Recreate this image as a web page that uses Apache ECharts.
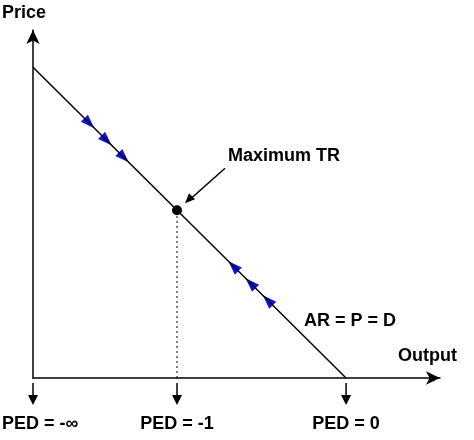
<!DOCTYPE html><html><head><meta charset="utf-8"><script src="https://cdn.jsdelivr.net/npm/echarts@6/dist/echarts.min.js"></script></head><body style="margin:0;background:#fff"><div id="c" style="width:474px;height:440px"></div><script>
const demandLine=[[0,10],[10,0]];
const maxPoint=[4.6,5.4];
const arrowsDown=[[1.8,8.2],[2.35,7.65],[2.9,7.1]];
const arrowsUp=[[6.4,3.6],[6.95,3.05],[7.5,2.5]];
const pedLabels=[[0,'PED = -∞'],[4.6,'PED = -1'],[10,'PED = 0']];
const ch=echarts.init(document.getElementById('c'));
const F='Arial, Liberation Sans, sans-serif';
ch.setOption({animation:false,
grid:{left:33,right:34,top:30,bottom:62},
xAxis:{type:'value',min:0,max:13,axisLine:{lineStyle:{color:'#000',width:1.5},symbol:['none','arrow'],symbolSize:[10,14]},axisTick:{show:false},axisLabel:{show:false},splitLine:{show:false}},
yAxis:{type:'value',min:0,max:11.2,axisLine:{show:true,lineStyle:{color:'#000',width:1.5},symbol:['none','arrow'],symbolSize:[10,14]},axisTick:{show:false},axisLabel:{show:false},splitLine:{show:false}},
series:[
{type:'line',data:demandLine,symbol:'none',lineStyle:{color:'#000',width:1.5}},
{type:'line',data:[[maxPoint[0],0],maxPoint],symbol:'none',lineStyle:{color:'#000',width:1,type:[2,3]}},
{type:'scatter',data:[maxPoint],symbolSize:10,itemStyle:{color:'#000',opacity:1},z:5},
{type:'scatter',data:arrowsDown,symbol:'triangle',symbolSize:[10,14],symbolRotate:-135,itemStyle:{color:'#1010e0',opacity:1}},
{type:'scatter',data:arrowsUp,symbol:'triangle',symbolSize:[10,14],symbolRotate:45,itemStyle:{color:'#1010e0',opacity:1}}
]});
const g=[];
const ts={fontFamily:F,fontSize:18,fontWeight:'bold',fill:'#000'};
g.push({type:'text',left:2,top:4,style:Object.assign({text:'Price'},ts)});
g.push({type:'text',left:398,top:347,style:Object.assign({text:'Output'},ts)});
g.push({type:'text',left:228,top:147,style:Object.assign({text:'Maximum TR'},ts)});
g.push({type:'text',left:304,top:312,style:Object.assign({text:'AR = P = D'},ts)});
const mp=ch.convertToPixel({gridIndex:0},maxPoint);
g.push({type:'line',shape:{x1:mp[0]+48,y1:mp[1]-42,x2:mp[0]+12,y2:mp[1]-10},style:{stroke:'#000',lineWidth:1.5}});
g.push({type:'polygon',shape:{points:[[mp[0]+8,mp[1]-7],[mp[0]+12,mp[1]-17],[mp[0]+18,mp[1]-11]]},style:{fill:'#000'}});
pedLabels.forEach(([x,t],i)=>{const p=ch.convertToPixel({gridIndex:0},[x,0]);
g.push({type:'line',shape:{x1:p[0],y1:p[1]+5,x2:p[0],y2:p[1]+20},style:{stroke:'#000',lineWidth:1.5}});
g.push({type:'polygon',shape:{points:[[p[0]-5,p[1]+17],[p[0]+5,p[1]+17],[p[0],p[1]+27]]},style:{fill:'#000'}});
g.push({type:'text',x:i===0?2:p[0],y:p[1]+37,style:Object.assign({text:t,align:i===0?'left':'center'},ts)});});
ch.setOption({graphic:g});
</script></body></html>
